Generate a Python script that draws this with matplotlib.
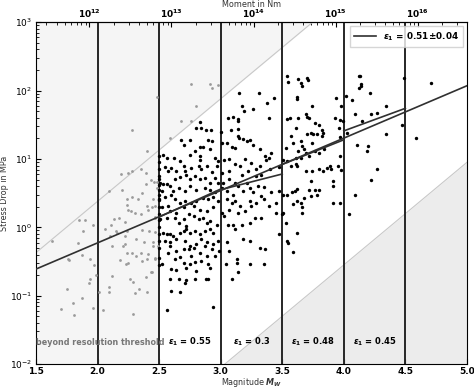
import numpy as np
import matplotlib
matplotlib.use('Agg')
import matplotlib.pyplot as plt
from matplotlib.lines import Line2D

plt.rcParams['font.family'] = 'DejaVu Sans'
plt.rcParams['mathtext.fontset'] = 'custom'
plt.rcParams['mathtext.rm'] = 'DejaVu Sans:bold'
plt.rcParams['mathtext.bf'] = 'DejaVu Sans:bold'
plt.rcParams['mathtext.it'] = 'DejaVu Sans:italic:bold'

# events below the resolution threshold (grey), (Mw, log10 stress drop in MPa)
grey_mw = [1.63, 1.70, 1.75, 1.76, 1.77, 1.80, 1.81, 1.84, 1.85, 1.87, 1.87, 1.88, 1.90, 1.93,
           1.94, 1.94, 1.96, 1.96, 1.97, 1.99, 2.01, 2.04, 2.06, 2.09, 2.09, 2.09, 2.10, 2.11,
           2.12, 2.12, 2.13, 2.15, 2.16, 2.17, 2.18, 2.19, 2.20, 2.21, 2.22, 2.22, 2.22, 2.23,
           2.24, 2.24, 2.24, 2.24, 2.25, 2.25, 2.25, 2.26, 2.27, 2.28, 2.28, 2.28, 2.28, 2.29,
           2.29, 2.30, 2.30, 2.31, 2.31, 2.33, 2.34, 2.35, 2.35, 2.35, 2.36, 2.36, 2.36, 2.38,
           2.39, 2.39, 2.39, 2.40, 2.40, 2.40, 2.40, 2.41, 2.41, 2.42, 2.43, 2.44, 2.45, 2.45,
           2.47, 2.47, 2.47, 2.48, 2.48, 2.48, 2.49, 2.46, 2.44, 2.47, 2.47, 2.45, 2.47, 2.43,
           2.76, 2.91, 2.93, 2.98, 2.80, 2.68, 2.76, 2.59]
grey_log = [-0.20, -1.19, -0.90, -0.47, -0.48, -1.10, -1.28, -0.23, 0.11, -0.41, -1.03, -0.05, 0.11, -0.81,
            -0.76, -0.46, 0.04, -1.18, -0.55, -0.70, -0.95, -1.21, -0.03, 0.53, -0.87, -0.95, -0.13, 0.03,
            -0.27, -0.71, 0.12, -0.06, -0.08, 0.13, -0.48, 0.78, 0.54, -0.27, 0.08, -0.13, -0.24, -0.54,
            0.32, -0.06, -0.38, 0.41, 0.80, 0.25, -0.52, -0.76, 0.24, 0.45, -0.37, 1.43, 0.82, -0.80,
            -1.27, -0.96, 0.21, -0.17, -0.42, 0.42, -0.90, 0.86, 0.20, -0.37, 0.50, -0.49, -0.04, -0.22,
            0.80, -0.73, 0.64, 1.11, 0.31, -0.95, -0.47, 0.26, -0.39, -0.05, 0.69, -0.66, 0.41, -0.22,
            0.14, -0.45, 0.31, 1.91, 0.58, 0.66, -0.28, 0.67, 0.30, 0.15, -0.07, -0.28, -0.47, -0.66,
            2.09, 2.09, 2.04, 2.08, 1.78, 1.55, 1.56, 1.31]

# resolved events (black)
black_mw = [3.15, 3.31, 3.43, 3.38, 3.17, 3.19, 3.26, 3.10, 3.06, 3.14, 3.14, 3.39, 2.83, 2.80,
            2.84, 2.88, 2.92, 3.00, 3.08, 3.14, 2.68, 2.75, 2.90, 2.93, 3.01, 3.05, 3.14, 3.15,
            3.18, 3.09, 3.12, 3.21, 3.24, 3.26, 3.32, 3.36, 3.39, 3.41, 2.83, 2.86, 2.70, 2.79,
            2.83, 2.83, 2.53, 2.56, 2.62, 2.67, 2.75, 2.91, 2.95, 2.98, 3.03, 3.07, 3.12, 3.16,
            3.20, 3.25, 3.29, 3.32, 3.37, 3.40, 3.47, 2.55, 2.57, 2.60, 2.64, 2.70, 2.71, 2.76,
            2.82, 2.84, 2.89, 2.93, 2.97, 3.01, 3.07, 3.17, 3.22, 3.29, 3.33, 2.51, 2.53, 2.56,
            2.63, 2.67, 2.72, 2.75, 2.79, 2.83, 2.87, 2.91, 2.95, 2.98, 3.02, 3.07, 3.12, 3.14,
            3.21, 3.24, 3.30, 3.35, 3.41, 3.47, 2.52, 2.59, 2.61, 2.66, 2.71, 2.75, 2.80, 2.87,
            2.91, 2.95, 3.01, 3.05, 3.10, 3.18, 3.26, 3.33, 2.50, 2.55, 2.60, 2.63, 2.67, 2.71,
            2.76, 2.80, 2.86, 2.90, 2.94, 2.98, 3.05, 3.09, 3.12, 3.16, 3.24, 3.29, 3.35, 3.39,
            3.45, 2.52, 2.57, 2.59, 2.64, 2.70, 2.74, 2.78, 2.83, 2.89, 2.94, 3.01, 3.07, 3.14,
            3.20, 3.25, 3.33, 3.45, 2.51, 2.56, 2.63, 2.66, 2.70, 2.72, 2.78, 2.82, 2.86, 2.89,
            2.91, 2.97, 3.03, 3.10, 3.17, 3.24, 3.28, 2.53, 2.56, 2.59, 2.61, 2.67, 2.70, 2.72,
            2.75, 2.79, 2.83, 2.87, 2.91, 2.94, 3.06, 3.12, 3.18, 3.24, 3.47, 2.55, 2.59, 2.64,
            2.71, 2.75, 2.80, 2.84, 2.89, 2.94, 2.98, 3.05, 2.59, 2.70, 2.74, 2.78, 2.87, 2.93,
            2.99, 3.07, 3.32, 3.36, 2.57, 2.64, 2.67, 2.76, 2.83, 2.89, 2.95, 2.63, 2.70, 2.75,
            2.79, 2.84, 2.90, 3.04, 3.13, 3.13, 3.24, 3.35, 2.52, 2.60, 2.64, 2.72, 2.80, 2.91,
            2.59, 2.66, 2.72, 2.79, 2.90, 2.60, 2.67, 2.71, 2.88, 3.09, 3.14, 2.56, 2.94,
            2.50, 2.50, 2.50, 2.50, 2.50, 2.50, 2.50, 2.50, 2.50, 2.50, 2.50, 2.50, 2.50, 2.50,
            2.50, 2.50, 2.50, 2.50,
            3.54, 3.56, 3.61, 3.63, 3.69, 3.70, 3.72, 3.74, 3.77, 3.80, 3.82, 3.83, 3.70, 3.75,
            3.78, 3.82, 3.57, 3.59, 3.65, 3.66, 3.68, 3.63, 3.61, 3.65, 3.69, 3.72, 3.77, 3.80,
            3.84, 3.54, 3.57, 3.61, 3.62, 3.69, 3.74, 3.80, 3.83, 3.86, 3.51, 3.53, 3.73, 3.72,
            3.80, 3.62, 3.58, 3.60, 3.54, 3.51, 3.68, 3.73, 3.78, 3.62, 3.65, 3.66, 3.66, 3.50,
            3.51, 3.53, 3.62, 3.54, 3.55, 3.59, 3.59, 3.77, 3.73, 3.74,
            3.89, 3.90, 3.95, 3.98, 3.91, 3.91, 3.91, 3.97, 4.22, 4.09, 4.04, 4.27,
            4.12, 4.13, 4.14, 4.14, 4.12, 4.21, 4.02, 3.94, 3.98, 4.07, 4.09, 4.15, 4.22, 4.27,
            4.34, 4.49, 4.47, 4.34, 4.11, 4.20, 4.19, 3.97, 3.96, 3.93, 3.97, 3.99, 4.03, 3.97,
            4.71, 4.59,
            3.54, 3.55, 3.63, 3.65, 3.66, 3.70, 3.71, 3.62, 3.62]
black_log = [1.96, 1.97, 1.89, 1.82, 1.77, 1.70, 1.73, 1.61, 1.60, 1.58, 1.55, 1.60, 1.54, 1.45,
             1.45, 1.43, 1.43, 1.40, 1.43, 1.44, 1.28, 1.28, 1.27, 1.26, 1.23, 1.23, 1.34, 1.31,
             1.29, 1.18, 1.16, 1.26, 1.28, 1.20, 1.15, 1.05, 1.02, 1.09, 1.18, 1.18, 1.20, 1.11,
             1.04, 0.99, 1.06, 1.02, 1.02, 0.97, 1.06, 1.14, 1.02, 0.97, 0.99, 1.00, 0.92, 0.89,
             1.00, 0.94, 0.85, 0.90, 0.99, 0.85, 0.88, 0.88, 0.82, 0.87, 0.82, 0.89, 0.82, 0.87,
             0.89, 0.85, 0.89, 0.81, 0.89, 0.80, 0.82, 0.77, 0.82, 0.75, 0.77, 0.65, 0.63, 0.64,
             0.70, 0.74, 0.77, 0.70, 0.75, 0.70, 0.72, 0.65, 0.72, 0.65, 0.65, 0.70, 0.65, 0.60,
             0.65, 0.58, 0.61, 0.59, 0.51, 0.53, 0.53, 0.60, 0.53, 0.58, 0.53, 0.60, 0.55, 0.58,
             0.54, 0.51, 0.58, 0.53, 0.48, 0.53, 0.51, 0.46, 0.41, 0.45, 0.48, 0.41, 0.36, 0.38,
             0.36, 0.38, 0.43, 0.41, 0.45, 0.38, 0.41, 0.36, 0.38, 0.31, 0.38, 0.35, 0.41, 0.31,
             0.36, 0.29, 0.31, 0.24, 0.21, 0.29, 0.19, 0.31, 0.26, 0.24, 0.29, 0.21, 0.26, 0.21,
             0.24, 0.31, 0.13, 0.21, 0.12, 0.14, 0.14, 0.07, 0.12, 0.02, 0.16, 0.12, 0.14, 0.07,
             0.09, 0.04, 0.16, 0.04, 0.04, 0.07, 0.14, -0.08, -0.10, -0.10, -0.13, -0.08, -0.05, -0.03,
             -0.08, -0.05, -0.10, -0.05, -0.03, -0.08, 0.04, -0.03, -0.17, -0.20, -0.10, -0.20, -0.21, -0.17,
             -0.20, -0.27, -0.25, -0.17, -0.22, -0.25, -0.20, -0.21, -0.27, -0.32, -0.32, -0.30, -0.27, -0.32,
             -0.35, -0.35, -0.30, -0.32, -0.37, -0.35, -0.44, -0.42, -0.37, -0.42, -0.42, -0.47, -0.52, -0.54,
             -0.51, -0.49, -0.54, -0.54, -0.47, -0.52, -0.53, -0.53, -0.54, -0.61, -0.62, -0.59, -0.64, -0.59,
             -0.76, -0.76, -0.77, -0.76, -0.76, -0.93, -0.95, -0.82, -0.75, -0.76, -0.65, -1.21, -1.17,
             1.05, 0.95, 0.85, 0.75, 0.70, 0.62, 0.55, 0.47, 0.40, 0.30, 0.20, 0.10, 0.00, -0.10,
             -0.20, -0.30, -0.45, -0.55,
             1.58, 1.60, 1.45, 1.60, 1.65, 1.61, 1.60, 1.77, 1.52, 1.50, 1.42, 1.38, 1.36, 1.37,
             1.36, 1.33, 1.33, 1.23, 1.26, 1.19, 1.14, 1.11, 1.02, 1.02, 1.09, 1.05, 1.11, 1.09,
             1.14, 0.97, 0.89, 0.92, 0.89, 0.82, 0.82, 0.85, 0.82, 0.87, 0.99, 1.16, 0.68, 0.55,
             0.55, 0.56, 0.51, 0.53, 0.48, 0.48, 0.43, 0.46, 0.48, 0.38, 0.36, 0.29, 0.21, 0.19,
             0.21, 0.07, -0.08, -0.20, -0.23, -0.36, 0.34, 0.55, 1.38, 1.23,
             0.89, 0.86, 0.89, 0.84, 0.68, 0.60, 0.35, 0.35, 0.69, 0.48, 0.19, 0.85,
             2.22, 2.21, 2.09, 2.07, 2.04, 1.96, 1.92, 1.89, 1.78, 1.86, 1.66, 1.56, 1.65, 1.67,
             1.78, 2.18, 1.49, 1.37, 1.21, 1.19, 1.11, 1.32, 1.45, 1.60, 1.57, 1.56, 1.38, 1.04,
             2.11, 1.30,
             2.22, 2.12, 2.17, 2.11, 2.07, 2.18, 2.15, 1.91, 1.88]

# magnitude bins and their fitted exponents
bin_edges = [2.0, 2.5, 3.0, 3.5, 4.0, 4.5]
bin_lo = [2.5, 3.0, 3.5, 4.0]
bin_hi = [3.0, 3.5, 4.0, 4.5]
bin_eps = ['0.55', '0.3', '0.48', '0.45']
seg_log_lo = [0.15, 0.55, 0.92, 1.41]
seg_log_hi = [0.56, 0.78, 1.28, 1.74]

# overall fit and resolution limits (log10 stress drop at Mw 1.5 and 5.0)
fit_mw = [1.5, 5.0]
fit_log = [-0.61, 2.07]
upper_log = [-0.37, 4.88]
lower_log = [-4.30, 0.95]

fig = plt.figure(figsize=(4.74, 3.89), dpi=100)
ax = fig.add_axes([0.076, 0.064, 0.909, 0.879])

mw_line = np.array(fit_mw)
ymax = 1e3
ymin = 1e-2
ax.axvspan(1.5, 2.5, color='#f5f5f5', zorder=0, lw=0)
ax.fill_between(mw_line, 10 ** np.array(upper_log), ymax, color='#f5f5f5', zorder=0, lw=0)
ax.fill_between(mw_line, ymin, 10 ** np.array(lower_log), color='#ececec', zorder=0, lw=0)
ax.plot(mw_line, 10 ** np.array(upper_log), color='#c8c8c8', lw=0.8, zorder=1)
ax.plot(mw_line, 10 ** np.array(lower_log), color='#c8c8c8', lw=0.8, zorder=1)

for e in bin_edges:
    ax.axvline(e, color='#262626', lw=1.4, zorder=2)

ax.scatter(grey_mw, 10 ** np.array(grey_log), s=4, color='#9a9a9a', lw=0, zorder=3)
ax.scatter(black_mw, 10 ** np.array(black_log), s=6, color='black', lw=0, zorder=3)

ax.plot(fit_mw, 10 ** np.array(fit_log), color='#303030', lw=1.2, zorder=4)
for lo, hi, a, b in zip(bin_lo, bin_hi, seg_log_lo, seg_log_hi):
    ax.plot([lo, hi], [10 ** a, 10 ** b], color='#303030', lw=1.2, zorder=4)

ax.text(2.02, 0.021, 'beyond resolution threshold', color='#777777', fontsize=5.8,
        fontweight='bold', ha='center', va='center', zorder=5)
for lo, hi, eps in zip(bin_lo, bin_hi, bin_eps):
    ax.text((lo + hi) / 2, 0.021, r'$\varepsilon_1$' + ' = ' + eps, fontsize=6,
            fontweight='bold', ha='center', va='center', zorder=5)

ax.set_yscale('log')
ax.set_xlim(1.5, 5.0)
ax.set_ylim(ymin, ymax)
ax.set_xticks([1.5, 2.0, 2.5, 3.0, 3.5, 4.0, 4.5, 5.0])
ax.tick_params(axis='both', which='both', direction='in', labelsize=6.5, pad=3)
ax.tick_params(axis='x', pad=2)
for lab in ax.get_xticklabels():
    lab.set_fontweight('bold')
ax.set_xlabel(r'Magnitude $M_W$', fontsize=5.8, color='#333333')
ax.set_ylabel('Stress Drop in MPa', fontsize=5.8, color='#333333')
ax.xaxis.set_label_coords(0.5, -0.036)
ax.yaxis.set_label_coords(-0.062, 0.5)

# top axis: seismic moment
secax = ax.secondary_xaxis('top', functions=(lambda m: 1.5 * m + 9.1, lambda l: (l - 9.1) / 1.5))
secax.set_xticks([12, 13, 14, 15, 16])
secax.set_xticklabels([r'$10^{%d}$' % n for n in [12, 13, 14, 15, 16]])
minor = [np.log10(k) + n for n in range(11, 17) for k in range(2, 10)]
secax.set_xticks(minor, minor=True)
secax.tick_params(which='both', direction='in', labelsize=6.5, pad=1.5)
secax.tick_params(which='minor', length=2)
secax.set_xlabel('Moment in Nm', fontsize=5.8, color='#333333', labelpad=0.5)

handle = Line2D([], [], color='#303030', lw=1.2)
leg = ax.legend([handle], [r'$\varepsilon_1$' + ' = 0.51±0.04'], loc='upper right',
                prop={'size': 6.4, 'weight': 'bold'}, handlelength=2.4, fancybox=False,
                borderpad=0.5, borderaxespad=0.4)
leg.get_frame().set_edgecolor('#cccccc')

fig.savefig('out.png', dpi=100)
